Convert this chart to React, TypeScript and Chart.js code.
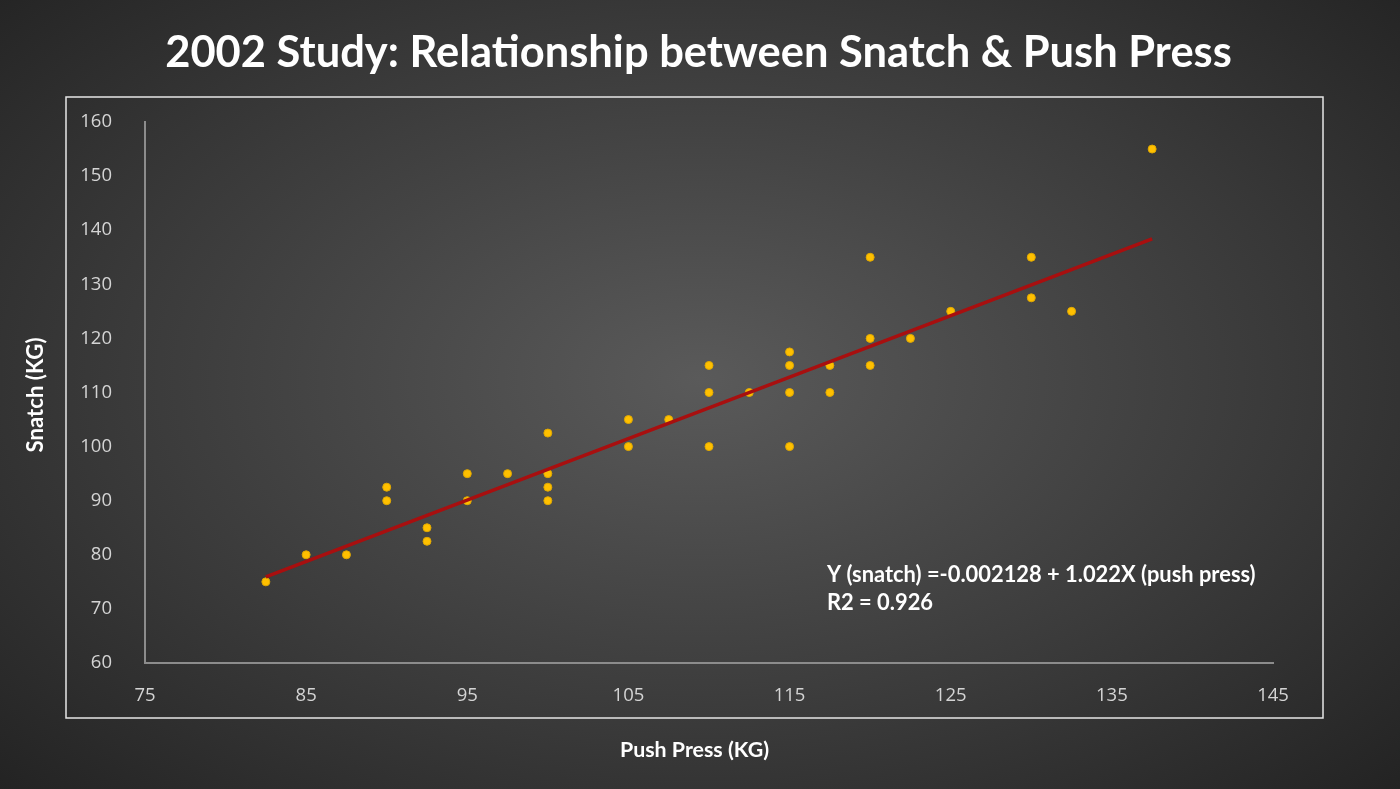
import React, { useEffect, useRef } from "react";
import { Chart, registerables } from "chart.js";

Chart.register(...registerables);

const pushPress: number[] = [
  82.5, 85, 87.5, 90, 90, 92.5, 92.5, 95, 95, 97.5,
  100, 100, 100, 100, 105, 105, 107.5, 110, 110, 110,
  112.5, 115, 115, 115, 115, 117.5, 117.5, 120, 120, 120,
  122.5, 125, 130, 130, 132.5, 137.5,
];
const snatch: number[] = [
  75, 80, 80, 92.5, 90, 85, 82.5, 95, 90, 95,
  102.5, 95, 92.5, 90, 105, 100, 105, 115, 110, 100,
  110, 117.5, 115, 110, 100, 115, 110, 135, 120, 115,
  120, 125, 135, 127.5, 125, 155,
];
const trendX: number[] = [82.5, 137.5];
const trendY: number[] = [75.9, 138.4];

const titleText = "2002 Study: Relationship between Snatch & Push Press";
const xTitle = "Push Press (KG)";
const yTitle = "Snatch (KG)";
const noteLines: string[] = [
  "Y (snatch) =-0.002128 + 1.022X (push press)",
  "R2 = 0.926",
];

function fitFont(ctx: CanvasRenderingContext2D, text: string, target: number, family: string) {
  ctx.font = `bold 20px ${family}`;
  const w = ctx.measureText(text).width;
  const size = (20 * target) / w;
  return `bold ${size.toFixed(2)}px ${family}`;
}

export default function App() {
  const ref = useRef<HTMLCanvasElement | null>(null);
  useEffect(() => {
    if (!ref.current) return;
    const decor = {
      id: "decor",
      beforeDraw(chart: any) {
        const ctx = chart.ctx;
        ctx.save();
        ctx.strokeStyle = "#e6e6e6";
        ctx.lineWidth = 1.5;
        ctx.strokeRect(66, 97, 1257, 621);
        ctx.restore();
      },
      afterDraw(chart: any) {
        const ctx = chart.ctx;
        ctx.save();
        ctx.fillStyle = "#ffffff";
        ctx.textAlign = "center";
        ctx.textBaseline = "middle";
        ctx.font = fitFont(ctx, titleText, 1067, "Lato");
        ctx.fillText(titleText, 698.5, 53);
        ctx.font = fitFont(ctx, xTitle, 149, "Lato");
        ctx.fillText(xTitle, 694.5, 750);
        ctx.save();
        ctx.translate(36, 395);
        ctx.rotate(-Math.PI / 2);
        ctx.font = fitFont(ctx, yTitle, 115, "Lato");
        ctx.fillText(yTitle, 0, 0);
        ctx.restore();
        ctx.textAlign = "left";
        ctx.font = fitFont(ctx, noteLines[0], 429, "Lato");
        ctx.fillText(noteLines[0], 827, 575);
        ctx.fillText(noteLines[1], 827, 603);
        ctx.restore();
      },
    };
    const chart = new Chart(ref.current, {
      type: "scatter",
      data: {
        datasets: [
          {
            type: "line",
            data: trendX.map((x, i) => ({ x, y: trendY[i] })),
            borderColor: "#a80f0f",
            borderWidth: 3.5,
            pointRadius: 0,
            order: 1,
          } as any,
          {
            data: pushPress.map((x, i) => ({ x, y: snatch[i] })),
            backgroundColor: "#ffc000",
            borderColor: "#e0a800",
            borderWidth: 1,
            pointRadius: 4,
            order: 2,
          },
        ],
      },
      options: {
        animation: false,
        responsive: false,
        maintainAspectRatio: false,
        layout: { padding: { left: 0, right: 127, top: 122, bottom: 0 } },
        plugins: { legend: { display: false }, tooltip: { enabled: false }, title: { display: false } },
        scales: {
          x: {
            type: "linear",
            min: 75,
            max: 145,
            ticks: { stepSize: 10, color: "#d4d4d4", font: { family: "Open Sans", size: 18.5 }, padding: 14 },
            grid: { display: false },
            border: { color: "#8c8c8c", width: 2 },
            afterFit: (s: any) => { s.height = 126; },
          },
          y: {
            min: 60,
            max: 160,
            ticks: { stepSize: 10, color: "#d4d4d4", font: { family: "Open Sans", size: 18.5 }, padding: 25 },
            grid: { display: false },
            border: { color: "#8c8c8c", width: 2 },
            afterFit: (s: any) => { s.width = 145; },
          },
        },
      },
      plugins: [decor],
    });
    return () => chart.destroy();
  }, []);
  return (
    <div
      style={{
        position: "fixed",
        left: 0,
        top: 0,
        width: 1400,
        height: 789,
        background: "radial-gradient(ellipse 75% 80% at 50% 48%, #5a5a5a 0%, #3a3a3a 55%, #1f1f1f 100%)",
      }}
    >
      <canvas ref={ref} width={1400} height={789} style={{ display: "block" }} />
    </div>
  );
}
